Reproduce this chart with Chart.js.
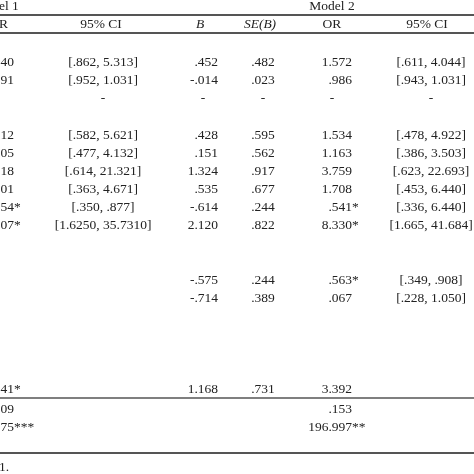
<!DOCTYPE html>
<html><head><meta charset="utf-8">
<script src="https://cdn.jsdelivr.net/npm/chart.js@4"></script>
<style>html,body{margin:0;padding:0;background:#fff}#w{width:474px;height:474px}</style>
</head><body><div id="w"><canvas id="c"></canvas></div>
<script>
// Table content (cropped regression table)
const rowY = [62, 80, 98, 135, 153, 171, 189, 207, 225, 280, 298, 389, 409, 427];
const or1Frag = ["40","91","","12","05","18","01","54*","07*","","","41*","09","75***"];
const ci1 = ["[.862, 5.313]","[.952, 1.031]","-","[.582, 5.621]","[.477, 4.132]","[.614, 21.321]","[.363, 4.671]","[.350, .877]","[1.6250, 35.7310]","","","","",""];
const b2 = [".452","-.014","-",".428",".151","1.324",".535","-.614","2.120","-.575","-.714","1.168","",""];
const se2 = [".482",".023","-",".595",".562",".917",".677",".244",".822",".244",".389",".731","",""];
const or2 = ["1.572",".986","-","1.534","1.163","3.759","1.708",".541*","8.330*",".563*",".067","3.392",".153","196.997**"];
const ci2 = ["[.611, 4.044]","[.943, 1.031]","-","[.478, 4.922]","[.386, 3.503]","[.623, 22.693]","[.453, 6.440]","[.336, 6.440]","[1.665, 41.684]","[.349, .908]","[.228, 1.050]","","",""];
const headers = ["R","95% CI","B","SE(B)","OR","95% CI"];
const ruleY = [15, 33, 398, 453];

const tablePlugin = {
  id:'table',
  afterDraw(chart){
    const ctx = chart.ctx, X = chart.scales.x, Y = chart.scales.y;
    const px = v => X.getPixelForValue(v), py = v => Y.getPixelForValue(v);
    ctx.save();
    ctx.fillStyle = '#222';
    ctx.textBaseline = 'middle';
    const f = (it) => ctx.font = (it?'italic ':'') + '13.5px "Liberation Serif", "DejaVu Serif", serif';
    const txt = (s, x, y, al, it) => { f(it); ctx.textAlign = al; ctx.fillText(s, px(x), py(y)); };
    // numeric with hanging stars, numeric right edge at x
    const num = (s, x, y) => { const m = s.match(/^(.*?)(\**)$/); f(false); ctx.textAlign='right'; ctx.fillText(m[1], px(x), py(y)); ctx.textAlign='left'; ctx.fillText(m[2], px(x), py(y)); };
    // header
    txt("el 1", -1, 6, 'left');
    txt("Model 2", 332, 6, 'center');
    txt(headers[0], -1, 24, 'left');
    txt(headers[1], 101, 24, 'center');
    txt(headers[2], 200, 24, 'center', true);
    txt(headers[3], 260, 24, 'center', true);
    txt(headers[4], 332, 24, 'center');
    txt(headers[5], 427, 24, 'center');
    rowY.forEach((y, i) => {
      if (or1Frag[i]) num(or1Frag[i], 14, y);
      if (ci1[i]) txt(ci1[i], 103, y, 'center');
      if (b2[i]) { if (b2[i]==='-') txt('-', 203, y, 'center'); else num(b2[i], 218, y); }
      if (se2[i]) txt(se2[i], 263, y, 'center');
      if (or2[i]) { if (or2[i]==='-') txt('-', 332, y, 'center'); else num(or2[i], 352, y); }
      if (ci2[i]) txt(ci2[i], 431, y, 'center');
    });
    txt("1.", -1, 467, 'left');
    ctx.strokeStyle = '#555';
    ruleY.forEach((y, i) => {
      ctx.lineWidth = i===2 ? 1.5 : 2;
      ctx.beginPath(); ctx.moveTo(px(0), py(y)); ctx.lineTo(px(474), py(y)); ctx.stroke();
    });
    ctx.restore();
  }
};

new Chart(document.getElementById('c'), {
  type:'scatter',
  data:{datasets:[{data:[], pointRadius:0}]},
  options:{
    responsive:true, maintainAspectRatio:false, animation:false,
    layout:{padding:0},
    plugins:{legend:{display:false}, tooltip:{enabled:false}},
    scales:{
      x:{type:'linear', min:0, max:474, display:false},
      y:{type:'linear', min:0, max:474, reverse:true, display:false}
    }
  },
  plugins:[tablePlugin]
});
</script></body></html>
